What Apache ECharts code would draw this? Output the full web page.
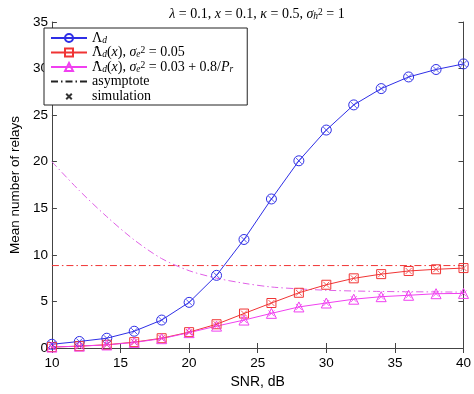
<!DOCTYPE html>
<html>
<head>
<meta charset="utf-8">
<script src="https://cdn.jsdelivr.net/npm/echarts@6/dist/echarts.min.js"></script>
<style>html,body{margin:0;padding:0;background:#fff}#c{width:474px;height:394px}</style>
</head>
<body>
<div id="c"></div>
<script>
// ---- data ----
var snr = [10,12,14,16,18,20,22,24,26,28,30,32,34,36,38,40];
var lambdaD = [0.4,0.7,1.05,1.8,3.0,4.9,7.8,11.65,16.0,20.1,23.4,26.1,27.85,29.1,29.9,30.5];
var estFixed = [0.1,0.2,0.35,0.63,1.05,1.7,2.55,3.7,4.83,5.93,6.79,7.48,7.93,8.27,8.45,8.58];
var estVar = [0.1,0.2,0.33,0.6,1.0,1.65,2.35,3.0,3.72,4.41,4.83,5.24,5.51,5.66,5.83,5.86];
var asymFixed = 8.85;
var asymVar = [20.0,16.9,14.1,11.6,9.6,8.3,7.5,6.95,6.55,6.35,6.2,6.12,6.07,6.04,6.02,6.0];
var xTicks = [10,15,20,25,30,35,40];
var yTicks = [0,5,10,15,20,25,30,35];

function pairs(ys){ return snr.map(function(x,i){ return [x, ys[i]]; }); }

var BLUE = '#2e2ee6', RED = '#f03434', MAG = '#f040f0', MAG2 = '#e060e6';
var CROSS = 'path://M0,0L10,10M10,0L0,10';
var CROSS_LEG = 'path://M-4,-4M14,14M0,0L10,10M10,0L0,10';
var serif = 'Liberation Serif';
var sans = 'Liberation Sans';

var rich = {
  t: {fontFamily: serif, fontSize: 14, color: '#000', lineHeight: 14},
  hat: {fontFamily: serif, fontSize: 13, color: '#000', width: 0, align: 'left', lineHeight: 8, verticalAlign: 'top'},
  i: {fontFamily: serif, fontSize: 14, fontStyle: 'italic', color: '#000', lineHeight: 14},
  sb: {fontFamily: serif, fontSize: 9.5, fontStyle: 'italic', color: '#000', lineHeight: 9, verticalAlign: 'bottom'},
  sp: {fontFamily: serif, fontSize: 9.5, color: '#000', lineHeight: 9, verticalAlign: 'top'}
};
var names = {
  'L': '{t|Λ}{sb|d}',
  'A': '{hat|\u2009ˆ}{t|Λ}{sb|d}{t|(}{i|x}{t|), }{i|σ}{sb|e}{sp|2}{t| = 0.05}',
  'B': '{hat|\u2009ˆ}{t|Λ}{sb|d}{t|(}{i|x}{t|), }{i|σ}{sb|e}{sp|2}{t| = 0.03 + 0.8/}{i|P}{sb|r}',
  'asymptote': '{t|asymptote}',
  'simulation': '{t|simulation}'
};

function crossSeries(ys, color){
  return {type:'scatter', data: pairs(ys), symbol: CROSS, symbolSize: 6,
    itemStyle:{color:'none', borderColor: color, borderWidth: 1}, z: 5, silent: true};
}

var axisCommon = {
  axisLine:{show:true, lineStyle:{color:'#444', width:1}},
  axisTick:{show:true, inside:true, length:5, lineStyle:{color:'#444'}},
  splitLine:{show:false}
};

var option = {
  animation: false,
  backgroundColor: '#fff',
  title: {
    text: '{i|λ}{t| = 0.1, }{i|x}{t| = 0.1, }{i|κ}{t| = 0.5, }{i|σ}{sb|h}{sp|2}{t| = 1}',
    left: 252, top: 2, textAlign: 'center',
    textStyle: {rich: rich, fontWeight: 'normal'}
  },
  grid: {left: 37, right: 7, top: 22, bottom: 34, containLabel: false},
  legend: {
    orient: 'vertical', left: 44, top: 28,
    data: ['L','A','B',
      {name:'asymptote', itemStyle:{opacity:0}},
      {name:'simulation', icon: CROSS_LEG}],
    itemWidth: 36, itemHeight: 10, itemGap: 0.5,
    padding: [3, 14, 1, 6],
    borderColor: '#222', borderWidth: 1, backgroundColor: '#fff',
    formatter: function(n){ return names[n]; },
    textStyle: {rich: rich}
  },
  xAxis: [
    Object.assign({type:'value', min:10, max:40, interval:5, position:'bottom',
      name:'SNR, dB', nameLocation:'middle', nameGap: 27,
      nameTextStyle:{fontFamily:sans, fontSize:14, color:'#000'},
      axisLabel:{fontFamily:sans, fontSize:13.5, color:'#000', margin: 8}}, axisCommon),
    Object.assign({type:'value', min:10, max:40, interval:5, position:'top',
      axisLabel:{show:false}}, axisCommon)
  ],
  yAxis: [
    Object.assign({type:'value', min:0, max:35, interval:5, position:'left',
      name:'Mean number of relays', nameLocation:'middle', nameGap: 27,
      nameTextStyle:{fontFamily:sans, fontSize:13.5, color:'#000'},
      axisLabel:{fontFamily:sans, fontSize:13.5, color:'#000', margin: 4}}, axisCommon),
    Object.assign({type:'value', min:0, max:35, interval:5, position:'right',
      axisLabel:{show:false}}, axisCommon)
  ],
  series: [
    {name:'asymptote-red', type:'line', data:[[snr[0],asymFixed],[snr[snr.length-1],asymFixed]],
      symbol:'none', lineStyle:{color:RED, width:1, type:[7,3,1.5,3]}, z:1, silent:true},
    {name:'asymptote-mag', type:'line', data: pairs(asymVar), smooth:0.3,
      symbol:'none', lineStyle:{color:MAG2, width:1, type:[7,3,1.5,3]}, z:1, silent:true},
    {name:'L', type:'line', data: pairs(lambdaD), color: BLUE,
      symbol:'circle', symbolSize: 10, showSymbol: true,
      lineStyle:{color:BLUE, width:1}, itemStyle:{color:'rgba(255,255,255,0)', borderColor:BLUE, borderWidth:1}, z:3},
    {name:'A', type:'line', data: pairs(estFixed), color: RED,
      symbol:'rect', symbolSize: 9,
      lineStyle:{color:RED, width:1}, itemStyle:{color:'rgba(255,255,255,0)', borderColor:RED, borderWidth:1}, z:3},
    {name:'B', type:'line', data: pairs(estVar), color: MAG,
      symbol:'triangle', symbolSize: 10,
      lineStyle:{color:MAG, width:1}, itemStyle:{color:'rgba(255,255,255,0)', borderColor:MAG, borderWidth:1}, z:3},
    {name:'asymptote', type:'line', data: [], symbol:'none', color:'#222',
      lineStyle:{color:'#222', width:1, type:[7,3,1.5,3]}},
    {name:'simulation', type:'scatter', data: [], symbol: CROSS, symbolSize: 7,
      itemStyle:{color:'none', borderColor:'#000', borderWidth:1}},
    crossSeries(lambdaD, BLUE),
    crossSeries(estFixed, RED),
    crossSeries(estVar, MAG)
  ]
};
var chart = echarts.init(document.getElementById('c'), null, {renderer:'canvas'});
chart.setOption(option);
</script>
</body>
</html>
